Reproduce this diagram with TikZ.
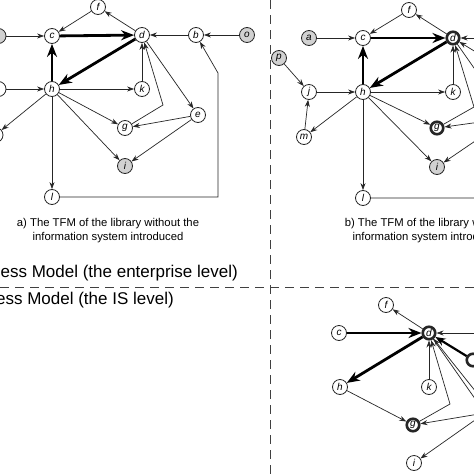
\documentclass[tikz,border=0pt]{standalone}
\usepackage{fontspec}
\setmainfont{Liberation Sans}
\usetikzlibrary{arrows.meta}
\begin{document}
\begin{tikzpicture}[x=1pt,y=-1pt,
  nd/.style={circle,draw=black!85,line width=0.8pt,minimum size=15pt,inner sep=0pt,fill=white,font=\fontsize{10}{10}\selectfont\itshape},
  gr/.style={nd,fill=black!18},
  bnd/.style={nd,line width=2.6pt,minimum size=12.5pt},
  ed/.style={draw=black!85,line width=0.7pt,-{Stealth[length=7pt,width=5pt]}},
  ln/.style={draw=black!85,line width=0.7pt},
  th/.style={draw=black,line width=2.8pt,-{Stealth[length=13pt,width=10pt]}},
  sep/.style={draw=black!75,line width=0.9pt,dash pattern=on 9pt off 6pt},
  captext/.style={font=\fontsize{11.3}{14}\selectfont,anchor=base,inner sep=0pt},
  bigtext/.style={font=\fontsize{17}{18}\selectfont,anchor=base east,inner sep=0pt}]
\useasboundingbox (0,0) rectangle (474,474);
\fill[white] (0,0) rectangle (474,474);

% separators
\coordinate (vt) at (270.5,0); \coordinate (vb) at (270.5,474);
\coordinate (hl) at (0,287); \coordinate (hr) at (474,287);
\draw[sep] (vt) -- (vb);
\draw[sep] (hl) -- (hr);

% ---------- panel a ----------
\node[gr] (aa) at (-1.5,36) {};
\node[nd] (ca) at (52,36) {c};
\node[nd] (fa) at (98,7) {f};
\node[nd] (da) at (142,35) {d};
\node[nd] (ba) at (196,35) {b};
\node[gr] (oa) at (247,35) {o};
\node[nd] (ja) at (-1.5,89) {};
\node[nd] (ha) at (52,89) {h};
\node[nd] (ka) at (142,89) {k};
\node[nd] (ea) at (198,115) {e};
\node[nd] (ga) at (125,128) {g};
\node[gr] (ia) at (125,166) {i};
\node[nd] (ma) at (-4.5,135) {};
\node[nd] (la) at (52,197) {l};
\coordinate (gba) at (163,105);
\coordinate (lb1) at (218,197);
\coordinate (lb2) at (218,73);

\draw[ed] (aa) -- (ca);
\draw[ed] (fa) -- (ca);
\draw[ed] (da) -- (fa);
\draw[th] (ca) -- (da);
\draw[th] (ha) -- (ca);
\draw[th] (da) -- (ha);
\draw[ed] (ba) -- (da);
\draw[ed] (oa) -- (ba);
\draw[ed] (ja) -- (ha);
\draw[ed] (ha) -- (ka);
\draw[ed] (ka) -- (da);
\draw[ed] (ha) -- (ga);
\draw[ed] (ha) -- (ia);
\draw[ed] (ha) -- (ma);
\draw[ed] (ha) -- (la);
\draw[ed] (da) -- (ea);
\draw[ed] (ea) -- (ga);
\draw[ed] (ea) -- (ia);
\draw[ed] (ga) -- (gba) -- (da);
\draw[ed] (la) -- (lb1) -- (lb2) -- (ba);

\node[captext] (capa1) at (108,226) {a) The TFM of the library without the};
\node[captext] (capa2) at (108,240) {information system introduced};

% ---------- panel b ----------
\node[gr] (ab) at (309,38) {a};
\node[nd] (cb) at (363,38) {c};
\node[nd] (fb) at (409,10) {f};
\node[bnd] (db) at (453,38) {d};
\node[gr] (pb) at (279,58) {p};
\node[nd] (jb) at (309,92) {j};
\node[nd] (hb) at (363,92) {h};
\node[nd] (kb) at (453,92) {k};
\node[nd] (mb) at (304,137) {m};
\node[bnd] (gb) at (437,128) {g};
\node[gr] (ib) at (437,167) {i};
\node[nd] (lb) at (363,198) {l};
\coordinate (bb) at (507,38);
\coordinate (nb) at (497,65);
\coordinate (eb) at (509,118);
\coordinate (gbb) at (474,107);
\coordinate (lbb1) at (529,198);
\coordinate (lbb2) at (529,76);

\draw[ed] (ab) -- (cb);
\draw[ed] (fb) -- (cb);
\draw[ed] (db) -- (fb);
\draw[th] (cb) -- (db);
\draw[th] (hb) -- (cb);
\draw[th] (db) -- (hb);
\draw[ed] (pb) -- (jb);
\draw[ed] (jb) -- (hb);
\draw[ed] (mb) -- (jb);
\draw[ed] (hb) -- (kb);
\draw[ed] (kb) -- (db);
\draw[ed] (hb) -- (gb);
\draw[ed] (hb) -- (ib);
\draw[ed] (hb) -- (mb);
\draw[ed] (hb) -- (lb);
\draw[ed] (bb) -- (db);
\draw[ed] (nb) -- (db);
\draw[ln] (db) -- (eb);
\draw[ed] (eb) -- (gb);
\draw[ed] (eb) -- (ib);
\draw[ed] (gb) -- (gbb) -- (db);
\draw[ln] (lb) -- (lbb1) -- (lbb2) -- (bb);

\node[captext] (capb1) at (428,226) {b) The TFM of the library with the};
\node[captext] (capb2) at (428,240) {information system introduced};

% ---------- level labels ----------
\node[bigtext] (ent) at (238,277) {Business Process Model (the enterprise level)};
\node[bigtext] (isl) at (174,304) {Business Process Model (the IS level)};

% ---------- panel c ----------
\node[nd] (cc) at (339,333) {c};
\node[nd] (fc) at (386,305) {f};
\node[bnd] (dc) at (429,333) {d};
\node[nd] (hc) at (340,387) {h};
\node[nd] (kc) at (429,387) {k};
\node[bnd] (gc) at (413,425) {g};
\node[nd] (ic) at (414,463) {i};
\node[bnd] (xc) at (473,360) {};
\coordinate (bc) at (483,333);
\coordinate (ec) at (485,413);
\coordinate (qc) at (496,417);
\coordinate (gbc) at (450,404);

\draw[th] (cc) -- (dc);
\draw[th] (dc) -- (hc);
\draw[ed] (dc) -- (fc);
\draw[ed] (hc) -- (gc);
\draw[ed] (kc) -- (dc);
\draw[ed] (bc) -- (dc);
\draw[draw=black,line width=2.2pt,-{Stealth[length=10pt,width=8pt]}] (xc) -- (dc);
\draw[ln] (dc) -- (ec);
\draw[ed] (qc) -- (dc);
\draw[ed] (ec) -- (gc);
\draw[ed] (ec) -- (ic);
\draw[ed] (gc) -- (gbc) -- (dc);
\end{tikzpicture}
\end{document}
